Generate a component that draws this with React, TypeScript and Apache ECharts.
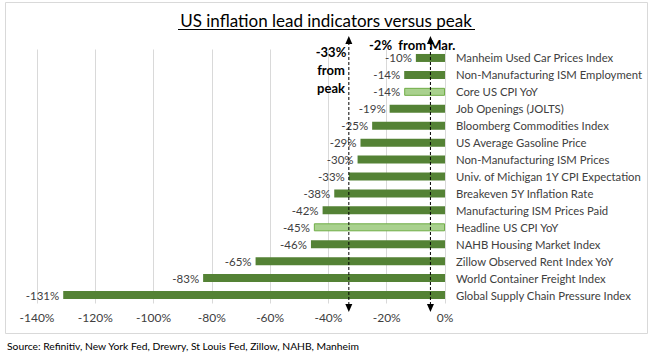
import React, { useEffect, useRef } from "react";
import * as echarts from "echarts";

const categories = [
  "Manheim Used Car Prices Index",
  "Non-Manufacturing ISM Employment",
  "Core US CPI YoY",
  "Job Openings (JOLTS)",
  "Bloomberg Commodities Index",
  "US Average Gasoline Price",
  "Non-Manufacturing ISM Prices",
  "Univ. of Michigan 1Y CPI Expectation",
  "Breakeven 5Y Inflation Rate",
  "Manufacturing ISM Prices Paid",
  "Headline US CPI YoY",
  "NAHB Housing Market Index",
  "Zillow Observed Rent Index YoY",
  "World Container Freight Index",
  "Global Supply Chain Pressure Index",
];
const values = [-10, -14, -14, -19, -25, -29, -30, -33, -38, -42, -45, -46, -65, -83, -131];
const highlighted = ["Core US CPI YoY", "Headline US CPI YoY"];
const markerValues = [-33, -5];

const FONT = "Lato, 'Open Sans', sans-serif";

export default function App() {
  const ref = useRef<HTMLDivElement>(null);
  useEffect(() => {
    document.body.style.margin = "0";
    const chart = echarts.init(ref.current!, null, { renderer: "svg" });
    chart.setOption({
      animation: false,
      backgroundColor: "#ffffff",
      grid: { left: 37, right: 206, top: 49.5, bottom: 53.5, containLabel: false },
      xAxis: {
        type: "value",
        min: -140,
        max: 0,
        interval: 20,
        axisLine: { show: false },
        axisTick: { show: false },
        splitLine: { lineStyle: { color: "#d9d9d9", width: 1 } },
        axisLabel: {
          formatter: (v: number) => v + "%",
          color: "#404040",
          fontFamily: FONT,
          fontSize: 12,
          margin: 8,
        },
      },
      yAxis: {
        type: "category",
        data: categories,
        inverse: true,
        position: "right",
        axisLine: { show: false },
        axisTick: { show: false },
        axisLabel: {
          color: "#404040",
          fontFamily: FONT,
          fontSize: 11.3,
          margin: 11,
          align: "left",
        },
      },
      series: [
        {
          type: "bar",
          barWidth: 8,
          data: values.map((v, i) => {
            const light = highlighted.includes(categories[i]);
            return {
              value: v,
              itemStyle: light
                ? { color: "#a9d18e", borderColor: "#70ad47", borderWidth: 1 }
                : { color: "#548235" },
            };
          }),
          label: {
            show: true,
            position: "left",
            distance: 4,
            formatter: (p: any) => p.value + "%",
            color: "#404040",
            fontFamily: FONT,
            fontSize: 11.5,
          },
        },
      ],
    });

    const arrowTop = 36;
    const arrowBottom = 312;
    const arrows: any[] = [];
    markerValues.forEach((mv) => {
      const px = chart.convertToPixel({ xAxisIndex: 0 }, mv) as number;
      arrows.push(
        {
          type: "line",
          shape: { x1: px, y1: arrowTop + 6, x2: px, y2: arrowBottom - 6 },
          style: { stroke: "#000", lineWidth: 1, lineDash: [3, 2] },
          z: 10,
        },
        {
          type: "polygon",
          shape: { points: [[px, arrowTop], [px - 3.5, arrowTop + 8], [px + 3.5, arrowTop + 8]] },
          style: { fill: "#000" },
          z: 10,
        },
        {
          type: "polygon",
          shape: { points: [[px, arrowBottom], [px - 3.5, arrowBottom - 8], [px + 3.5, arrowBottom - 8]] },
          style: { fill: "#000" },
          z: 10,
        }
      );
    });

    chart.setOption({
      graphic: [
        {
          type: "rect",
          shape: { x: 5.5, y: 2.5, width: 642, height: 331 },
          style: { fill: "none", stroke: "#d9d9d9", lineWidth: 1 },
          silent: true,
        },
        {
          type: "text",
          x: 326,
          y: 20,
          style: {
            text: "US inflation lead indicators versus peak",
            fontFamily: FONT,
            fontSize: 17,
            fill: "#000",
            align: "center",
            verticalAlign: "middle",
          },
        },
        {
          type: "line",
          shape: { x1: 178, y1: 29.5, x2: 475, y2: 29.5 },
          style: { stroke: "#000", lineWidth: 1 },
        },
        ...arrows,
        {
          type: "text",
          x: 331,
          y: 43,
          style: {
            text: "-33%\nfrom\npeak",
            fontFamily: FONT,
            fontSize: 13,
            fontWeight: "bold",
            lineHeight: 18,
            fill: "#000",
            align: "center",
            verticalAlign: "top",
          },
        },
        {
          type: "text",
          x: 369,
          y: 45,
          style: {
            text: "-2%  from Mar.",
            fontFamily: FONT,
            fontSize: 13,
            fontWeight: "bold",
            fill: "#000",
            align: "left",
            verticalAlign: "middle",
          },
          z: 11,
        },
        {
          type: "text",
          x: 7,
          y: 346,
          style: {
            text: "Source: Refinitiv, New York Fed, Drewry, St Louis Fed, Zillow, NAHB, Manheim",
            fontFamily: FONT,
            fontSize: 10.3,
            fill: "#000",
            align: "left",
            verticalAlign: "middle",
          },
        },
      ],
    });
    return () => chart.dispose();
  }, []);
  return <div ref={ref} style={{ width: 651, height: 357 }} />;
}
